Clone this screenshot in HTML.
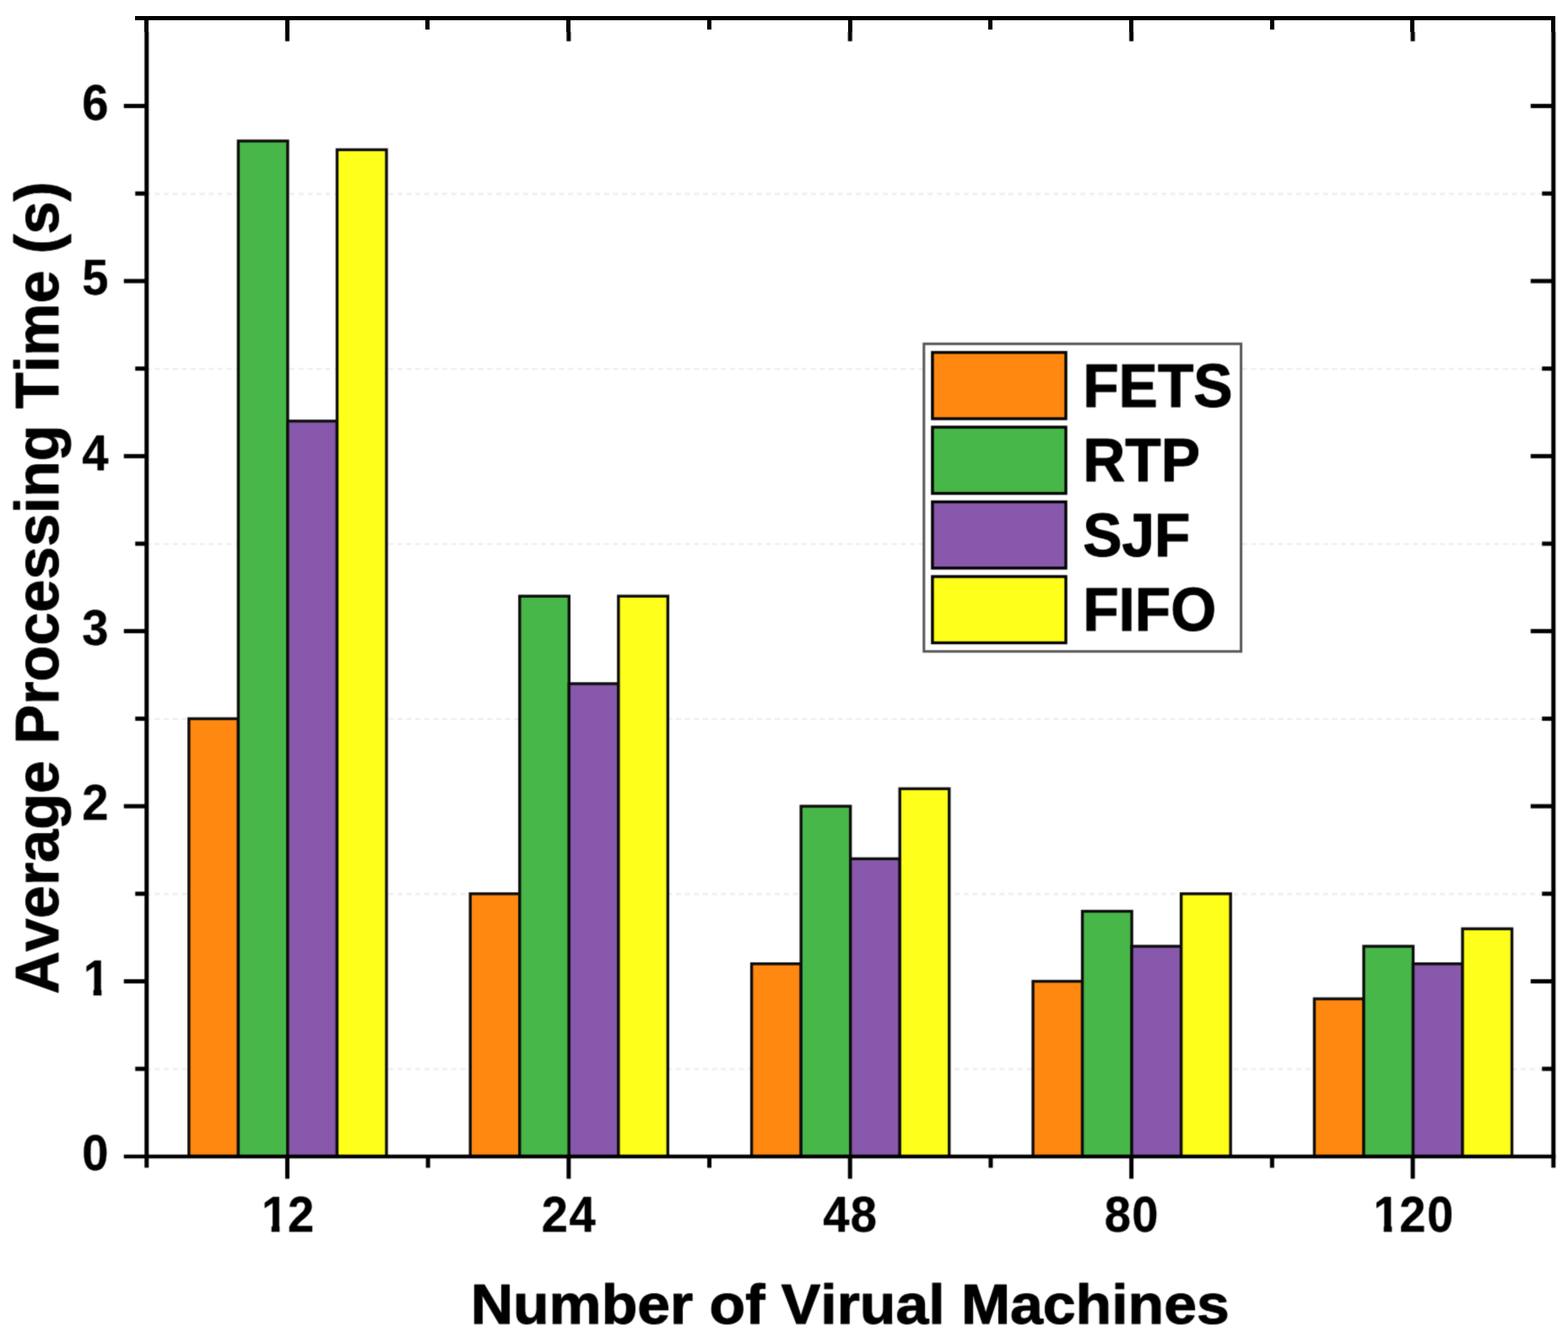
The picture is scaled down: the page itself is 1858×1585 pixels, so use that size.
<!DOCTYPE html>
<html lang="en">
<head>
<meta charset="utf-8">
<title>Average Processing Time vs Number of Virual Machines</title>
<style>
html,body{margin:0;padding:0;background:#fff;}
body{width:1858px;height:1585px;}
svg{display:block;}
text{font-family:"Liberation Sans",sans-serif;font-weight:bold;fill:#000;stroke:#000;stroke-linejoin:round;font-kerning:none;font-variant-ligatures:none;}
</style>
</head>
<body>
<svg width="1858" height="1585" viewBox="0 0 1858 1585" role="img" aria-label="Grouped bar chart: Average Processing Time (s) versus Number of Virual Machines for FETS, RTP, SJF and FIFO">
<defs>
<filter id="soft" x="0" y="0" width="1858" height="1585" filterUnits="userSpaceOnUse" color-interpolation-filters="sRGB"><feConvolveMatrix order="3" kernelMatrix="0.0625 0.2500 0.0625 0.2500 1.0000 0.2500 0.0625 0.2500 0.0625" divisor="2.25000" edgeMode="duplicate" preserveAlpha="true"/></filter>
</defs>
<rect x="0" y="0" width="1858" height="1585" fill="#ffffff"/>
<g filter="url(#soft)">
<rect x="-20" y="-20" width="1898" height="1625" fill="#ffffff"/>
<g transform="translate(0.25 0.35)">
<g stroke="#eeeeee" stroke-width="2.6" stroke-dasharray="5.8 4.85" fill="none">
<line x1="172.5" y1="1266.2" x2="1838.5" y2="1266.2"/>
<line x1="172.5" y1="1058.8" x2="1838.5" y2="1058.8"/>
<line x1="172.5" y1="851.4" x2="1838.5" y2="851.4"/>
<line x1="172.5" y1="644.1" x2="1838.5" y2="644.1"/>
<line x1="172.5" y1="436.7" x2="1838.5" y2="436.7"/>
<line x1="172.5" y1="229.3" x2="1838.5" y2="229.3"/>
</g>
<g stroke="#0c0c0c" stroke-width="3.4" stroke-linejoin="miter">
<rect x="223.59" y="851.04" width="58.53" height="518.46" fill="#FF8811"/>
<rect x="282.12" y="166.67" width="58.53" height="1202.83" fill="#48B749"/>
<rect x="340.65" y="498.48" width="58.53" height="871.02" fill="#8758AC"/>
<rect x="399.18" y="177.04" width="58.53" height="1192.46" fill="#FFFF1C"/>
<rect x="556.99" y="1058.42" width="58.53" height="311.08" fill="#FF8811"/>
<rect x="615.52" y="705.87" width="58.53" height="663.63" fill="#48B749"/>
<rect x="674.05" y="809.56" width="58.53" height="559.94" fill="#8758AC"/>
<rect x="732.58" y="705.87" width="58.53" height="663.63" fill="#FFFF1C"/>
<rect x="890.39" y="1141.38" width="58.53" height="228.12" fill="#FF8811"/>
<rect x="948.92" y="954.73" width="58.53" height="414.77" fill="#48B749"/>
<rect x="1007.45" y="1016.95" width="58.53" height="352.55" fill="#8758AC"/>
<rect x="1065.98" y="933.99" width="58.53" height="435.51" fill="#FFFF1C"/>
<rect x="1223.79" y="1162.12" width="58.53" height="207.38" fill="#FF8811"/>
<rect x="1282.32" y="1079.16" width="58.53" height="290.34" fill="#48B749"/>
<rect x="1340.85" y="1120.64" width="58.53" height="248.86" fill="#8758AC"/>
<rect x="1399.38" y="1058.42" width="58.53" height="311.08" fill="#FFFF1C"/>
<rect x="1557.19" y="1182.85" width="58.53" height="186.65" fill="#FF8811"/>
<rect x="1615.72" y="1120.64" width="58.53" height="248.86" fill="#48B749"/>
<rect x="1674.25" y="1141.38" width="58.53" height="228.12" fill="#8758AC"/>
<rect x="1732.78" y="1099.90" width="58.53" height="269.60" fill="#FFFF1C"/>
</g>
<g stroke="#000" stroke-width="5.0" fill="none" stroke-linecap="butt">
<line x1="160.0" y1="21.5" x2="1843.0" y2="21.5"/>
<line x1="173.5" y1="19.0" x2="173.5" y2="1383.0"/>
<line x1="1840.5" y1="19.0" x2="1840.5" y2="1383.0"/>
<line x1="340.2" y1="21.5" x2="340.2" y2="48.5"/>
<line x1="673.6" y1="21.5" x2="673.6" y2="48.5"/>
<line x1="1007.0" y1="21.5" x2="1007.0" y2="48.5"/>
<line x1="1340.4" y1="21.5" x2="1340.4" y2="48.5"/>
<line x1="1673.8" y1="21.5" x2="1673.8" y2="48.5"/>
<line x1="506.9" y1="21.5" x2="506.9" y2="35.0"/>
<line x1="840.3" y1="21.5" x2="840.3" y2="35.0"/>
<line x1="1173.7" y1="21.5" x2="1173.7" y2="35.0"/>
<line x1="1507.1" y1="21.5" x2="1507.1" y2="35.0"/>
<line x1="146.5" y1="1369.65" x2="1843.0" y2="1369.65" stroke-width="4.6"/>
<line x1="340.2" y1="1369.5" x2="340.2" y2="1396.0"/>
<line x1="673.6" y1="1369.5" x2="673.6" y2="1396.0"/>
<line x1="1007.0" y1="1369.5" x2="1007.0" y2="1396.0"/>
<line x1="1340.4" y1="1369.5" x2="1340.4" y2="1396.0"/>
<line x1="1673.8" y1="1369.5" x2="1673.8" y2="1396.0"/>
<line x1="506.9" y1="1369.5" x2="506.9" y2="1383.0"/>
<line x1="840.3" y1="1369.5" x2="840.3" y2="1383.0"/>
<line x1="1173.7" y1="1369.5" x2="1173.7" y2="1383.0"/>
<line x1="1507.1" y1="1369.5" x2="1507.1" y2="1383.0"/>
<line x1="160.0" y1="1265.8" x2="173.5" y2="1265.8"/>
<line x1="1827.0" y1="1265.8" x2="1840.5" y2="1265.8"/>
<line x1="146.5" y1="1162.1" x2="173.5" y2="1162.1"/>
<line x1="1813.5" y1="1162.1" x2="1840.5" y2="1162.1"/>
<line x1="160.0" y1="1058.4" x2="173.5" y2="1058.4"/>
<line x1="1827.0" y1="1058.4" x2="1840.5" y2="1058.4"/>
<line x1="146.5" y1="954.7" x2="173.5" y2="954.7"/>
<line x1="1813.5" y1="954.7" x2="1840.5" y2="954.7"/>
<line x1="160.0" y1="851.0" x2="173.5" y2="851.0"/>
<line x1="1827.0" y1="851.0" x2="1840.5" y2="851.0"/>
<line x1="146.5" y1="747.3" x2="173.5" y2="747.3"/>
<line x1="1813.5" y1="747.3" x2="1840.5" y2="747.3"/>
<line x1="160.0" y1="643.7" x2="173.5" y2="643.7"/>
<line x1="1827.0" y1="643.7" x2="1840.5" y2="643.7"/>
<line x1="146.5" y1="540.0" x2="173.5" y2="540.0"/>
<line x1="1813.5" y1="540.0" x2="1840.5" y2="540.0"/>
<line x1="160.0" y1="436.3" x2="173.5" y2="436.3"/>
<line x1="1827.0" y1="436.3" x2="1840.5" y2="436.3"/>
<line x1="146.5" y1="332.6" x2="173.5" y2="332.6"/>
<line x1="1813.5" y1="332.6" x2="1840.5" y2="332.6"/>
<line x1="160.0" y1="228.9" x2="173.5" y2="228.9"/>
<line x1="1827.0" y1="228.9" x2="1840.5" y2="228.9"/>
<line x1="146.5" y1="125.2" x2="173.5" y2="125.2"/>
<line x1="1813.5" y1="125.2" x2="1840.5" y2="125.2"/>
</g>
</g>
<text transform="translate(129.70 1386.10) scale(0.9580 1.0250)" font-size="58.60" text-anchor="end" letter-spacing="1.40" stroke-width="0.30">0</text>
<clipPath id="c1y"><rect x="90.0" y="1118.7" width="44.0" height="52.6"/><rect x="110.7" y="1170.3" width="9.6" height="20.4"/></clipPath>
<g clip-path="url(#c1y)">
<text transform="translate(131.20 1178.72) scale(0.9580 1.0250)" font-size="58.60" text-anchor="end" letter-spacing="1.40" stroke-width="0.30">1</text>
</g>
<text transform="translate(129.70 971.33) scale(0.9580 1.0250)" font-size="58.60" text-anchor="end" letter-spacing="1.40" stroke-width="0.30">2</text>
<text transform="translate(129.70 763.95) scale(0.9580 1.0250)" font-size="58.60" text-anchor="end" letter-spacing="1.40" stroke-width="0.30">3</text>
<text transform="translate(129.70 556.56) scale(0.9580 1.0250)" font-size="58.60" text-anchor="end" letter-spacing="1.40" stroke-width="0.30">4</text>
<text transform="translate(129.70 349.18) scale(0.9580 1.0250)" font-size="58.60" text-anchor="end" letter-spacing="1.40" stroke-width="0.30">5</text>
<text transform="translate(129.70 141.79) scale(0.9580 1.0250)" font-size="58.60" text-anchor="end" letter-spacing="1.40" stroke-width="0.30">6</text>
<clipPath id="c1x0"><rect x="300.0" y="1399.0" width="100.0" height="52.6"/><rect x="321.7" y="1450.6" width="9.6" height="20.4"/><rect x="340.5" y="1450.6" width="59.5" height="20.4"/></clipPath>
<g clip-path="url(#c1x0)">
<text transform="translate(340.25 1459.00) scale(0.9580 1.0250)" font-size="58.60" text-anchor="middle" letter-spacing="1.40" dx="1.57 -1.57" stroke-width="0.30">12</text>
</g>
<text transform="translate(674.40 1459.00) scale(0.9580 1.0250)" font-size="58.60" text-anchor="middle" letter-spacing="1.40" stroke-width="0.30">24</text>
<text transform="translate(1007.80 1459.00) scale(0.9580 1.0250)" font-size="58.60" text-anchor="middle" letter-spacing="1.40" stroke-width="0.30">48</text>
<text transform="translate(1341.20 1459.00) scale(0.9580 1.0250)" font-size="58.60" text-anchor="middle" letter-spacing="1.40" stroke-width="0.30">80</text>
<clipPath id="c1x4"><rect x="1610.0" y="1399.0" width="140.0" height="52.6"/><rect x="1639.7" y="1450.6" width="9.6" height="20.4"/><rect x="1657.8" y="1450.6" width="92.2" height="20.4"/></clipPath>
<g clip-path="url(#c1x4)">
<text transform="translate(1673.85 1459.00) scale(0.9580 1.0250)" font-size="58.60" text-anchor="middle" letter-spacing="1.40" dx="1.57 -1.57" stroke-width="0.30">120</text>
</g>
<text transform="translate(1007.20 1568.40) scale(1.0000 0.9480)" font-size="69.75" text-anchor="middle" letter-spacing="0.00" stroke-width="1.10">Number of Virual Machines</text>
<text transform="translate(68.80 696.40) rotate(-90) scale(1.0018 1.0200)" font-size="70.00" text-anchor="middle" stroke-width="0.90">Average Processing Time (s)</text>
<rect x="1094.8" y="407.3" width="375.8" height="364.4" fill="#fff" stroke="#555555" stroke-width="3"/>
<rect x="1104.9" y="417.5" width="158.1" height="78.5" fill="#FF8811" stroke="#000" stroke-width="3.4"/>
<text transform="translate(1283.20 481.60) scale(1.0000 1.0400)" font-size="69.40" text-anchor="start" stroke-width="1.00">FETS</text>
<rect x="1104.9" y="506.0" width="158.1" height="78.5" fill="#48B749" stroke="#000" stroke-width="3.4"/>
<text transform="translate(1283.20 570.10) scale(1.0000 1.0400)" font-size="69.40" text-anchor="start" stroke-width="1.00">RTP</text>
<rect x="1104.9" y="594.5" width="158.1" height="78.5" fill="#8758AC" stroke="#000" stroke-width="3.4"/>
<text transform="translate(1283.20 658.60) scale(1.0000 1.0400)" font-size="69.40" text-anchor="start" stroke-width="1.00">SJF</text>
<rect x="1104.9" y="683.0" width="158.1" height="78.5" fill="#FFFF1C" stroke="#000" stroke-width="3.4"/>
<text transform="translate(1283.20 747.10) scale(1.0000 1.0400)" font-size="69.40" text-anchor="start" stroke-width="1.00">FIFO</text>
</g>
<clipPath id="topclip"><rect x="0" y="0" width="1858" height="38"/></clipPath>
<g clip-path="url(#topclip)">
<rect x="0" y="0" width="1858" height="38" fill="#ffffff"/>
<g stroke="#000" stroke-width="5.0" fill="none" stroke-linecap="butt" shape-rendering="crispEdges">
<line x1="160.0" y1="21.5" x2="1843.0" y2="21.5"/>
<line x1="173.5" y1="19.0" x2="173.5" y2="1383.0"/>
<line x1="1840.5" y1="19.0" x2="1840.5" y2="1383.0"/>
<line x1="340.2" y1="21.5" x2="340.2" y2="48.5"/>
<line x1="673.6" y1="21.5" x2="673.6" y2="48.5"/>
<line x1="1007.0" y1="21.5" x2="1007.0" y2="48.5"/>
<line x1="1340.4" y1="21.5" x2="1340.4" y2="48.5"/>
<line x1="1673.8" y1="21.5" x2="1673.8" y2="48.5"/>
<line x1="506.9" y1="21.5" x2="506.9" y2="35.0"/>
<line x1="840.3" y1="21.5" x2="840.3" y2="35.0"/>
<line x1="1173.7" y1="21.5" x2="1173.7" y2="35.0"/>
<line x1="1507.1" y1="21.5" x2="1507.1" y2="35.0"/>
</g>
</g>
</svg>
</body>
</html>
